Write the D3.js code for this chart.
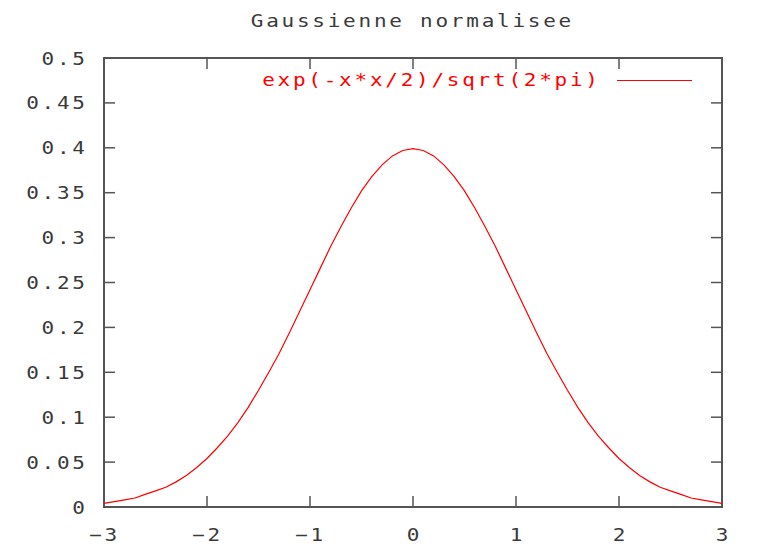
<!DOCTYPE html>
<html>
<head>
<meta charset="utf-8">
<script src="https://cdn.jsdelivr.net/npm/d3@7"></script>
<style>
  body { margin: 0; background: #fff; }
  text { font-family: "DejaVu Sans Mono", "Liberation Mono", monospace; font-size: 17.5px; letter-spacing: 2.3px; }
</style>
</head>
<body>
<svg width="765" height="555"></svg>
<script>
var svg = d3.select("svg"),
    width = +svg.attr("width"),
    height = +svg.attr("height");

var title = "Gaussienne normalisee";
var seriesName = "exp(-x*x/2)/sqrt(2*pi)";

var xTicks = [-3, -2, -1, 0, 1, 2, 3];
var yTicks = [0, 0.05, 0.1, 0.15, 0.2, 0.25, 0.3, 0.35, 0.4, 0.45, 0.5];

// values
var xs = [-3.0, -2.9, -2.8, -2.7, -2.6, -2.5, -2.4, -2.3, -2.2, -2.1,
          -2.0, -1.9, -1.8, -1.7, -1.6, -1.5, -1.4, -1.3, -1.2, -1.1,
          -1.0, -0.9, -0.8, -0.7, -0.6, -0.5, -0.4, -0.3, -0.2, -0.1,
           0.0,  0.1,  0.2,  0.3,  0.4,  0.5,  0.6,  0.7,  0.8,  0.9,
           1.0,  1.1,  1.2,  1.3,  1.4,  1.5,  1.6,  1.7,  1.8,  1.9,
           2.0,  2.1,  2.2,  2.3,  2.4,  2.5,  2.6,  2.7,  2.8,  2.9, 3.0];
var ys = [0.004, 0.006, 0.008, 0.010, 0.014, 0.018, 0.022, 0.028, 0.035, 0.044,
          0.054, 0.066, 0.079, 0.094, 0.111, 0.130, 0.150, 0.171, 0.194, 0.218,
          0.242, 0.266, 0.290, 0.312, 0.333, 0.352, 0.368, 0.381, 0.391, 0.397,
          0.399, 0.397, 0.391, 0.381, 0.368, 0.352, 0.333, 0.312, 0.290, 0.266,
          0.242, 0.218, 0.194, 0.171, 0.150, 0.130, 0.111, 0.094, 0.079, 0.066,
          0.054, 0.044, 0.035, 0.028, 0.022, 0.018, 0.014, 0.010, 0.008, 0.006, 0.004];

var margin = {top: 58, right: 43, bottom: 48, left: 104};
var x0 = margin.left, x1 = width - margin.right,
    y0 = margin.top, y1 = height - margin.bottom;

var x = d3.scaleLinear().domain([-3, 3]).range([x0, x1]);
var y = d3.scaleLinear().domain([0, 0.5]).range([y1, y0]);

var axisColor = "#555",
    textColor = "#3a3a3a",
    tickLen = 11,
    sx = 1.2,   // gnuplot font is wide, stretch glyphs
    ls = 2.3;   // letter spacing, trailing part made up for below

// text placed at px,py and stretched horizontally
function label(sel, px, py, anchor) {
  var shift = anchor == "end" ? ls : anchor == "middle" ? ls / 2 : 0;
  return sel
      .attr("transform", function(d) {
        var a = typeof px == "function" ? px(d) : px,
            b = typeof py == "function" ? py(d) : py;
        return "translate(" + a + "," + b + ") scale(" + sx + ",1) translate(" + shift + ",0)";
      })
      .attr("text-anchor", anchor);
}

// ticks on all four sides, pointing inward
var g = svg.append("g");
g.selectAll(".xt").data(xTicks).enter().append("line")
    .attr("x1", function(d) { return x(d); })
    .attr("x2", function(d) { return x(d); })
    .attr("y1", y1).attr("y2", y1 - tickLen)
    .attr("stroke", axisColor).attr("stroke-width", 1.5);
g.selectAll(".xtt").data(xTicks).enter().append("line")
    .attr("x1", function(d) { return x(d); })
    .attr("x2", function(d) { return x(d); })
    .attr("y1", y0).attr("y2", y0 + tickLen)
    .attr("stroke", axisColor).attr("stroke-width", 1.5);
g.selectAll(".yt").data(yTicks).enter().append("line")
    .attr("y1", function(d) { return y(d); })
    .attr("y2", function(d) { return y(d); })
    .attr("x1", x0).attr("x2", x0 + tickLen)
    .attr("stroke", axisColor).attr("stroke-width", 1.5);
g.selectAll(".ytr").data(yTicks).enter().append("line")
    .attr("y1", function(d) { return y(d); })
    .attr("y2", function(d) { return y(d); })
    .attr("x1", x1).attr("x2", x1 - tickLen)
    .attr("stroke", axisColor).attr("stroke-width", 1.5);

g.append("rect")
    .attr("x", x0).attr("y", y0)
    .attr("width", x1 - x0).attr("height", y1 - y0)
    .attr("fill", "none")
    .attr("stroke", axisColor)
    .attr("stroke-width", 2);

// tick labels
label(g.selectAll(".xl").data(xTicks).enter().append("text"),
      function(d) { return x(d) + (d < 0 ? -1 : 0); }, y1 + 34, "middle")
    .attr("fill", textColor)
    .text(function(d) { return d < 0 ? "\u2212" + Math.abs(d) : d; });

label(g.selectAll(".yl").data(yTicks).enter().append("text"),
      x0 - 19, function(d) { return y(d) + 6.5; }, "end")
    .attr("fill", textColor)
    .text(function(d) { return d3.format("")(d); });

label(svg.append("text"), 411, 27, "middle")
    .attr("fill", textColor)
    .text(title);

// legend
label(svg.append("text"), 598, 86, "end")
    .attr("fill", "#ff0000")
    .text(seriesName);
svg.append("line")
    .attr("x1", 617).attr("x2", 692)
    .attr("y1", 80.5).attr("y2", 80.5)
    .attr("stroke", "#ff0000")
    .attr("stroke-width", 1.2);

var line = d3.line()
    .x(function(d, i) { return x(xs[i]); })
    .y(function(d, i) { return y(ys[i]); });

svg.append("path")
    .datum(ys)
    .attr("d", line)
    .attr("fill", "none")
    .attr("stroke", "#ff0000")
    .attr("stroke-width", 1.2);
</script>
</body>
</html>
